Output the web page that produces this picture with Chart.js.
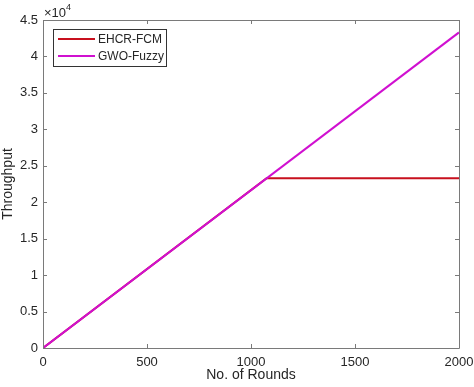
<!DOCTYPE html>
<html>
<head>
<meta charset="utf-8">
<script src="https://cdn.jsdelivr.net/npm/chart.js@4/dist/chart.umd.min.js"></script>
<style>
  html, body { margin: 0; padding: 0; background: #fff; }
  #wrap { width: 474px; height: 387px; }
</style>
</head>
<body>
<div id="wrap"><canvas id="throughputChart" width="474" height="387"></canvas></div>
<script>
// values
const seriesNames = ["EHCR-FCM", "GWO-Fuzzy"];
const ehcrRounds = [0, 1075, 2000];
const ehcrThroughput = [0, 23300, 23300];
const gwoRounds = [0, 2000];
const gwoThroughput = [0, 43300];
const xTicks = [0, 500, 1000, 1500, 2000];
const yTicks = [0, 5000, 10000, 15000, 20000, 25000, 30000, 35000, 40000, 45000];

const axisColor = "#7a7a7a";
const textColor = "#262626";
const fontFamily = "'Liberation Sans', Arial, sans-serif";

function toPoints(xs, ys) {
    return xs.map((x, i) => ({ x: x, y: ys[i] }));
}

// matlab style box, inward ticks, exponent and legend
const matlabAxes = {
    id: "matlabAxes",
    afterDraw(chart) {
        const ctx = chart.ctx;
        const area = chart.chartArea;
        const xs = chart.scales.x;
        const ys = chart.scales.y;
        const tick = 4;

        ctx.save();
        ctx.strokeStyle = axisColor;
        ctx.lineWidth = 1;
        ctx.beginPath();
        ctx.rect(Math.round(area.left) + 0.5, Math.round(area.top) + 0.5,
                 Math.round(area.right - area.left), Math.round(area.bottom - area.top));
        xTicks.forEach(v => {
            const px = Math.round(xs.getPixelForValue(v)) + 0.5;
            ctx.moveTo(px, area.bottom);
            ctx.lineTo(px, area.bottom - tick);
            ctx.moveTo(px, area.top);
            ctx.lineTo(px, area.top + tick);
        });
        yTicks.forEach(v => {
            const py = Math.round(ys.getPixelForValue(v)) + 0.5;
            ctx.moveTo(area.left, py);
            ctx.lineTo(area.left + tick, py);
            ctx.moveTo(area.right, py);
            ctx.lineTo(area.right - tick, py);
        });
        ctx.stroke();

        // x10^4 exponent
        ctx.fillStyle = textColor;
        ctx.textBaseline = "alphabetic";
        ctx.textAlign = "left";
        ctx.font = "13px " + fontFamily;
        ctx.fillText("\u00d710", area.left + 1, area.top - 3);
        const w = ctx.measureText("\u00d710").width;
        ctx.font = "9px " + fontFamily;
        ctx.fillText("4", area.left + 1 + w, area.top - 10);

        // legend box
        const lx = area.left + 10, ly = area.top + 9, lw = 113, lh = 37;
        ctx.fillStyle = "#fff";
        ctx.fillRect(lx, ly, lw, lh);
        ctx.strokeStyle = "#333";
        ctx.lineWidth = 1;
        ctx.strokeRect(lx + 0.5, ly + 0.5, lw, lh);
        ctx.font = "12px " + fontFamily;
        ctx.textBaseline = "middle";
        chart.data.datasets.forEach((ds, i) => {
            const cy = ly + 10 + i * 17;
            ctx.strokeStyle = ds.borderColor;
            ctx.lineWidth = 2;
            ctx.beginPath();
            ctx.moveTo(lx + 5, cy);
            ctx.lineTo(lx + 42, cy);
            ctx.stroke();
            ctx.fillStyle = textColor;
            ctx.fillText(ds.label, lx + 45, cy + 1);
        });
        ctx.restore();
    }
};

const ctx = document.getElementById("throughputChart").getContext("2d");

new Chart(ctx, {
    type: "scatter",
    data: {
        datasets: [
            {
                label: seriesNames[0],
                data: toPoints(ehcrRounds, ehcrThroughput),
                borderColor: "#c8101e",
                showLine: true,
                borderWidth: 2,
                pointRadius: 0,
                order: 1
            },
            {
                label: seriesNames[1],
                data: toPoints(gwoRounds, gwoThroughput),
                borderColor: "#d010d0",
                showLine: true,
                borderWidth: 2,
                pointRadius: 0,
                order: 0
            }
        ]
    },
    options: {
        responsive: false,
        animation: false,
        layout: { padding: { top: 20, right: 15, left: 0, bottom: 0 } },
        plugins: {
            legend: { display: false },
            tooltip: { enabled: false }
        },
        scales: {
            x: {
                type: "linear",
                min: 0,
                max: 2000,
                grid: { display: false, drawTicks: false, tickLength: 0 },
                border: { display: false },
                afterBuildTicks: scale => { scale.ticks = xTicks.map(v => ({ value: v })); },
                afterFit: scale => {
                    scale.height = 39;
                    scale.paddingLeft = 0;
                    scale.paddingRight = 0;
                },
                ticks: {
                    color: textColor,
                    font: { family: fontFamily, size: 13 },
                    padding: 7,
                    maxRotation: 0,
                    callback: v => String(v)
                },
                title: {
                    display: true,
                    text: "No. of Rounds",
                    color: textColor,
                    font: { family: fontFamily, size: 14 },
                    padding: { top: 0, bottom: 3 }
                }
            },
            y: {
                type: "linear",
                min: 0,
                max: 45000,
                grid: { display: false, drawTicks: false, tickLength: 0 },
                border: { display: false },
                afterBuildTicks: scale => { scale.ticks = yTicks.map(v => ({ value: v })); },
                afterFit: scale => {
                    scale.width = 43;
                    scale.paddingTop = 0;
                    scale.paddingBottom = 0;
                },
                ticks: {
                    color: textColor,
                    font: { family: fontFamily, size: 13 },
                    padding: 5,
                    callback: v => String(v / 10000)
                },
                title: {
                    display: true,
                    text: "Throughput",
                    color: textColor,
                    font: { family: fontFamily, size: 14 },
                    padding: { top: 0, bottom: 0 }
                }
            }
        }
    },
    plugins: [matlabAxes]
});
</script>
</body>
</html>
